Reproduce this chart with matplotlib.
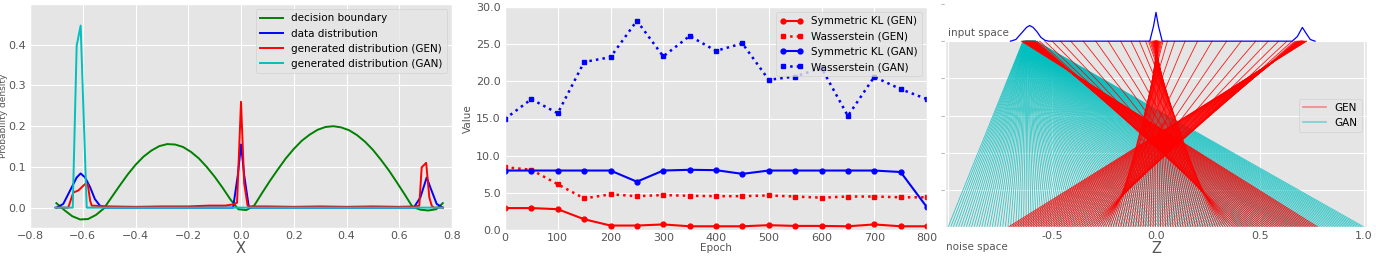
import numpy as np
import matplotlib
matplotlib.use("Agg")
import matplotlib.pyplot as plt
from matplotlib.ticker import FormatStrFormatter

plt.style.use("ggplot")
plt.rcParams["font.family"] = ["DejaVu Sans"]

# ---------- panel 1: densities over X ----------
dec_x = [-0.70, -0.67, -0.64, -0.61, -0.58, -0.55, -0.52, -0.49, -0.46, -0.43,
         -0.40, -0.37, -0.34, -0.31, -0.28, -0.25, -0.22, -0.19, -0.16, -0.13,
         -0.10, -0.07, -0.04, -0.01, 0.02, 0.05, 0.08, 0.11, 0.14, 0.17,
         0.20, 0.23, 0.26, 0.29, 0.32, 0.35, 0.38, 0.41, 0.44, 0.47,
         0.50, 0.53, 0.56, 0.59, 0.62, 0.65, 0.68, 0.71, 0.74, 0.765]
dec_y = [0.011, -0.006, -0.021, -0.029, -0.028, -0.018, -0.002, 0.026, 0.054, 0.081,
         0.105, 0.125, 0.140, 0.151, 0.156, 0.155, 0.149, 0.137, 0.121, 0.100,
         0.076, 0.049, 0.020, -0.004, -0.006, 0.005, 0.036, 0.066, 0.094, 0.121,
         0.144, 0.164, 0.179, 0.191, 0.198, 0.200, 0.197, 0.190, 0.178, 0.162,
         0.142, 0.118, 0.092, 0.063, 0.033, 0.002, -0.005, -0.007, -0.004, 0.011]

data_x = [-0.70, -0.674, -0.648, -0.623, -0.608, -0.591, -0.572, -0.554, -0.535, -0.516,
          -0.03, -0.012, 0.0, 0.012, 0.03,
          0.655, 0.68, 0.704, 0.72, 0.742, 0.765]
data_y = [0.0, 0.009, 0.042, 0.074, 0.084, 0.074, 0.050, 0.021, 0.005, 0.0,
          0.0, 0.080, 0.155, 0.080, 0.0,
          0.0, 0.025, 0.074, 0.046, 0.009, 0.0]

gen_px = [-0.70, -0.655, -0.636, -0.617, -0.604, -0.591, -0.581, -0.572, -0.566, -0.50,
          -0.40, -0.30, -0.20, -0.12, -0.06, -0.03, -0.015, 0.0, 0.012, 0.025,
          0.035, 0.10, 0.20, 0.30, 0.40, 0.50, 0.60, 0.66, 0.676, 0.685,
          0.702, 0.714, 0.723, 0.73, 0.765]
gen_py = [0.0, 0.0, 0.037, 0.042, 0.050, 0.058, 0.058, 0.017, 0.005, 0.003,
          0.002, 0.003, 0.003, 0.005, 0.005, 0.008, 0.012, 0.260, 0.060, 0.005,
          0.003, 0.003, 0.002, 0.003, 0.002, 0.003, 0.002, 0.003, 0.005, 0.099,
          0.110, 0.025, 0.005, 0.0, 0.0]

gan_px = [-0.705, -0.638, -0.623, -0.608, -0.585, 0.765]
gan_py = [0.0, 0.0, 0.398, 0.447, 0.0, 0.0]

# ---------- panel 2: metrics over epochs ----------
epochs = [0, 50, 100, 150, 200, 250, 300, 350, 400, 450, 500, 550, 600, 650, 700, 750, 800]
kl_gen = [2.95, 2.95, 2.8, 1.45, 0.6, 0.6, 0.75, 0.5, 0.5, 0.5, 0.65, 0.55, 0.55, 0.5, 0.75, 0.5, 0.5]
w_gen = [8.45, 8.1, 6.15, 4.25, 4.8, 4.55, 4.7, 4.6, 4.55, 4.55, 4.65, 4.5, 4.35, 4.5, 4.5, 4.4, 4.4]
kl_gan = [8.0, 8.0, 8.0, 8.0, 8.0, 6.5, 8.0, 8.1, 8.05, 7.55, 8.0, 8.0, 8.0, 8.0, 8.0, 7.8, 3.05]
w_gan = [14.95, 17.6, 15.7, 22.6, 23.25, 28.15, 23.35, 26.1, 24.1, 25.1, 20.2, 20.65, 21.8, 15.35, 20.6, 18.95, 17.6]

# ---------- panel 3: noise -> input mapping ----------
gen_x = [0.725, 0.722, 0.719, 0.716, 0.713, 0.711, 0.709, 0.707, 0.706, 0.705,
         0.704, 0.703, 0.702, 0.701, 0.700, 0.699, 0.698, 0.697, 0.696, 0.695,
         0.694, 0.693, 0.692, 0.690, 0.688, 0.686, 0.684, 0.681, 0.678, 0.674,
         0.668,
         0.655, 0.63, 0.59, 0.54, 0.48, 0.41, 0.34, 0.27, 0.20, 0.14, 0.09, 0.055,
         0.034, 0.028, 0.023, 0.019, 0.016, 0.013, 0.011, 0.009, 0.008, 0.007,
         0.006, 0.005, 0.004, 0.004, 0.003, 0.003, 0.002, 0.002, 0.001, 0.001,
         0.000, 0.000, -0.001, -0.001, -0.002, -0.002, -0.003, -0.004, -0.005, -0.006,
         -0.007, -0.008, -0.010, -0.012, -0.014, -0.017, -0.020, -0.024, -0.029, -0.036,
         -0.05, -0.08, -0.12, -0.17, -0.23, -0.29, -0.35, -0.41, -0.46, -0.50, -0.535, -0.56,
         -0.572, -0.578, -0.583, -0.587, -0.590, -0.593, -0.595, -0.597, -0.599, -0.601,
         -0.603, -0.605, -0.607, -0.609, -0.611, -0.613, -0.615, -0.617, -0.619, -0.621,
         -0.623, -0.625, -0.627, -0.629, -0.631, -0.634, -0.637, -0.640, -0.644, -0.648]
gan_x = [-0.640, -0.639, -0.638, -0.637, -0.636, -0.635, -0.634, -0.633, -0.632, -0.631,
         -0.630, -0.630, -0.629, -0.629, -0.628, -0.628, -0.627, -0.627, -0.626, -0.626,
         -0.625, -0.625, -0.625, -0.624, -0.624, -0.624, -0.623, -0.623, -0.623, -0.622,
         -0.622, -0.622, -0.621, -0.621, -0.621, -0.620, -0.620, -0.620, -0.619, -0.619,
         -0.619, -0.618, -0.618, -0.618, -0.617, -0.617, -0.617, -0.616, -0.616, -0.616,
         -0.615, -0.615, -0.615, -0.614, -0.614, -0.614, -0.613, -0.613, -0.613, -0.612,
         -0.612, -0.612, -0.611, -0.611, -0.611, -0.610, -0.610, -0.610, -0.609, -0.609,
         -0.609, -0.608, -0.608, -0.608, -0.607, -0.607, -0.607, -0.606, -0.606, -0.606,
         -0.605, -0.605, -0.605, -0.604, -0.604, -0.604, -0.603, -0.603, -0.603, -0.602,
         -0.602, -0.602, -0.601, -0.601, -0.601, -0.600, -0.600, -0.600, -0.599, -0.599,
         -0.599, -0.598, -0.598, -0.598, -0.597, -0.597, -0.597, -0.596, -0.596, -0.596,
         -0.595, -0.595, -0.595, -0.594, -0.594, -0.594, -0.593, -0.593, -0.593, -0.592,
         -0.592, -0.592, -0.591, -0.591, -0.591, -0.590, -0.590, -0.590, -0.589, -0.589,
         -0.589, -0.588, -0.588, -0.588, -0.587, -0.587, -0.587, -0.586, -0.586, -0.586,
         -0.585, -0.585, -0.585, -0.584, -0.584, -0.584, -0.583, -0.583, -0.583, -0.582,
         -0.582, -0.582, -0.581, -0.581, -0.581, -0.580, -0.580, -0.580, -0.579, -0.579,
         -0.578]
gen_z = np.linspace(-0.71, 0.778, len(gen_x))
gan_z = np.linspace(-1.0, 1.0, len(gan_x))

W, H = 1376, 259
fig = plt.figure(figsize=(W / 100, H / 100), dpi=100)


def box(l, t, r, b):
    return [l / W, 1 - b / H, (r - l) / W, (b - t) / H]


# panel 1
ax1 = fig.add_axes(box(30, 4, 452, 228))
ax1.plot(dec_x, dec_y, color="g", lw=1.4, label="decision boundary")
ax1.plot(data_x, data_y, color="b", lw=1.4, label="data distribution")
ax1.plot(gen_px, gen_py, color="r", lw=1.4, label="generated distribution (GEN)")
ax1.plot(gan_px, gan_py, color="c", lw=1.4, label="generated distribution (GAN)")
ax1.set_xlim(-0.8, 0.8)
ax1.set_ylim(-0.05, 0.5)
ax1.set_yticks([0.0, 0.1, 0.2, 0.3, 0.4])
ax1.tick_params(labelsize=8, length=0)
ax1.tick_params(axis="x", pad=2)
ax1.tick_params(axis="y", pad=3)
ax1.set_xlabel("X", fontsize=10.5, labelpad=0)
ax1.set_ylabel("Probability density", fontsize=6.5)
ax1.yaxis.set_label_coords(-0.052, 0.5)
ax1.legend(loc="upper right", fontsize=7.5, handlelength=2.2)

# panel 2
ax2 = fig.add_axes(box(505, 7, 927, 230))
ax2.plot(epochs, kl_gen, "-o", color="r", lw=1.5, ms=3.5, label="Symmetric KL (GEN)")
ax2.plot(epochs, w_gen, ":s", color="r", lw=1.8, ms=3.5, label="Wasserstein (GEN)")
ax2.plot(epochs, kl_gan, "-o", color="b", lw=1.5, ms=3.5, label="Symmetric KL (GAN)")
ax2.plot(epochs, w_gan, ":s", color="b", lw=1.8, ms=3.5, label="Wasserstein (GAN)")
ax2.set_xlim(0, 800)
ax2.set_ylim(0, 30)
ax2.set_yticks([0, 5, 10, 15, 20, 25, 30])
ax2.yaxis.set_major_formatter(FormatStrFormatter("%.1f"))
ax2.tick_params(labelsize=8, length=0)
ax2.tick_params(axis="x", pad=2)
ax2.tick_params(axis="y", pad=3)
ax2.set_xlabel("Epoch", fontsize=7.5, labelpad=0)
ax2.set_ylabel("Value", fontsize=7.5, labelpad=2)
ax2.legend(loc="upper right", fontsize=7.5, numpoints=2, handlelength=2.2)

# panel 3
ax3 = fig.add_axes(box(945, 4, 1367, 227))
ax3.set_facecolor("white")
ax3.axhspan(0, 1, color="#E5E5E5", zorder=0)
zeros = np.zeros(len(gan_z))
ones = np.ones(len(gan_z))
ax3.plot(np.vstack([gan_z, gan_x]), np.vstack([zeros, ones]), color="c", lw=0.6, alpha=0.8)
zeros = np.zeros(len(gen_z))
ones = np.ones(len(gen_z))
ax3.plot(np.vstack([gen_z, gen_x]), np.vstack([zeros, ones]), color="r", lw=0.6, alpha=0.9)
ax3.plot(data_x, 1 + np.array(data_y), color="b", lw=0.9)
ax3.plot([], [], color="r", alpha=0.4, lw=1.2, label="GEN")
ax3.plot([], [], color="c", alpha=0.5, lw=1.2, label="GAN")
ax3.set_xlim(-1.015, 1.015)
ax3.set_ylim(0, 1.2)
ax3.set_xticks([-1.0, -0.5, 0.0, 0.5, 1.0])
ax3.set_xticklabels(["", "-0.5", "0.0", "0.5", "1.0"])
ax3.set_yticks([0.2, 0.4, 0.6, 0.8, 1.0, 1.2])
ax3.set_yticklabels([])
ax3.tick_params(labelsize=8)
ax3.tick_params(axis="x", length=0, pad=3)
ax3.tick_params(axis="y", length=3, color="#bbbbbb")
ax3.set_xlabel("Z", fontsize=10.5, labelpad=0)
ax3.text(-1.0, 1.045, "input space", fontsize=7.5, color="#555555", va="center")
ax3.text(-1.01, -0.11, "noise space", fontsize=7.5, color="#555555", va="center")
ax3.legend(loc="center right", fontsize=7.5, handlelength=2.2)

fig.savefig("out.png", dpi=100)
